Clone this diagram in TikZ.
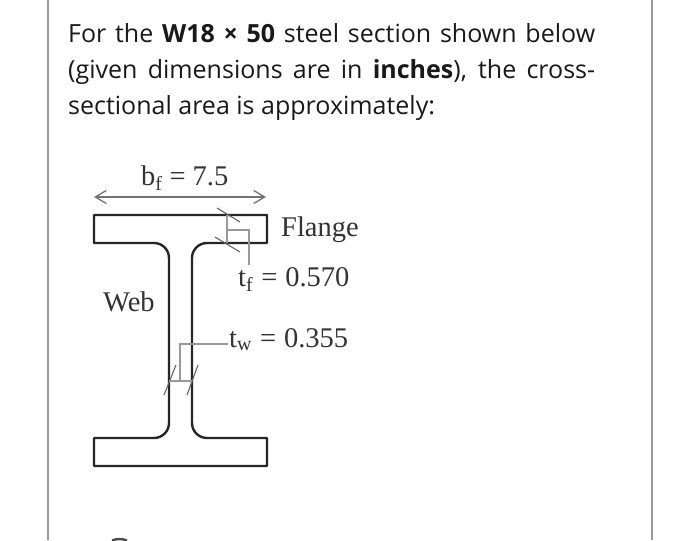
\documentclass[tikz,border=0pt]{standalone}
\usepackage{fontspec}
\setmainfont{Open Sans}
\newfontfamily\labelfont{Liberation Serif}
\usepackage{tikz}
\usetikzlibrary{arrows.meta}
\definecolor{labelgray}{gray}{0.2}
\definecolor{leadgray}{gray}{0.6}
\tikzset{
  sectionline/.style={line width=2.4pt,draw=black!85,line join=round},
  leader/.style={line width=1.1pt,draw=leadgray},
  tick/.style={line width=1.1pt,draw=black!60},
  dimline/.style={line width=1.3pt,draw=black!55,{Straight Barb[length=11pt,width=13pt]}-{Straight Barb[length=11pt,width=13pt]}},
  label/.style={font=\labelfont\fontsize{28.5}{28.5}\selectfont,text=labelgray,inner sep=0pt,anchor=base west},
  frameline/.style={line width=2pt,draw=black!40}
}
\begin{document}
\begin{tikzpicture}[x=1pt,y=-1pt]
\useasboundingbox (0,0) rectangle (700,540);
\fill[white] (0,0) rectangle (700,540);
\draw[frameline] (47.5,0) -- (47.5,540);
\draw[frameline] (652,0) -- (652,540);
\node[anchor=north west,inner sep=0pt,text width=527pt,align=justify,font=\fontsize{25}{36}\selectfont,text=black!90] (question) at (68,23)
  {For the \textbf{W18 × 50} steel section shown below\linebreak[4]
  (given dimensions are in \textbf{inches}), the cross-\linebreak[4]
  sectional area is approximately:};
% section outline
\draw[sectionline] (94,215) -- (267,215) -- (267,243) -- (207,243)
  to[out=180,in=90] (192,258) -- (192,423)
  to[out=-90,in=180] (207,438) -- (267,438) -- (267,466) -- (94,466) -- (94,438) -- (154,438)
  to[out=0,in=-90] (169,423) -- (169,258)
  to[out=90,in=0] (154,243) -- (94,243) -- cycle;
% dimension across the flange
\coordinate (bf_l) at (94,197);
\coordinate (bf_r) at (266,197);
\draw[dimline] (bf_l) -- (bf_r);
% flange thickness
\coordinate (tf_a) at (227,215);
\coordinate (tf_b) at (227,243);
\coordinate (tf_c) at (249,230);
\coordinate (tf_d) at (249,265);
\draw[tick] (217,208) -- (240,222);
\draw[tick] (215,237) -- (240,252);
\draw[leader] (tf_a) -- (tf_b);
\draw[leader] (227,230) -- (tf_c) -- (tf_d);
% web thickness
\coordinate (tw_a) at (169,381);
\coordinate (tw_b) at (192,381);
\coordinate (tw_c) at (180,381);
\coordinate (tw_d) at (180,344);
\coordinate (tw_e) at (228,344);
\draw[tick] (164,395) -- (176,365);
\draw[tick] (187,395) -- (198,365);
\draw[leader] (tw_a) -- (tw_b);
\draw[leader] (tw_c) -- (tw_d) -- (tw_e);
% labels
\node[label] (bf) at (141,185) {b\textsubscript{f}\hspace{7pt}=\hspace{7pt}7.5};
\node[label] (flange) at (281,236) {Flange};
\node[label] (tf) at (238,286) {t\textsubscript{f}\hspace{8pt}=\hspace{8pt}0.570};
\node[label] (web) at (103,311) {Web};
\node[label] (tw) at (229,347) {t\textsubscript{w}\hspace{8pt}=\hspace{8pt}0.355};
% start of the next line, cut off
\draw[line width=2.4pt,draw=black!70] (112,540.5) to[out=20,in=160] (127,540.5);
\end{tikzpicture}
\end{document}
